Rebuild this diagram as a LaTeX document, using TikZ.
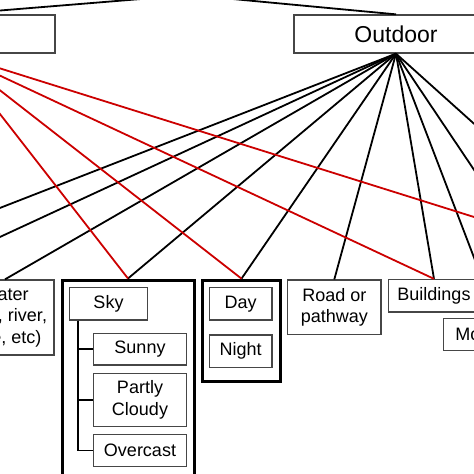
\documentclass[tikz,border=0pt]{standalone}
\usepackage{fontspec}
\setmainfont{Liberation Sans}
\usetikzlibrary{calc}
\definecolor{redline}{RGB}{204,0,0}
\definecolor{boxgray}{RGB}{70,70,70}
\begin{document}
\begin{tikzpicture}[x=1pt,y=-1pt,
  box/.style={draw=boxgray, line width=1.3pt, fill=white, inner sep=0pt, align=center, font=\fontsize{18}{21.5}\selectfont},
  bigbox/.style={box, minimum width=204pt, minimum height=38pt, font=\fontsize{23}{26}\selectfont},
  group/.style={draw=black, line width=3pt, inner sep=0pt},
  conn/.style={line width=1.8pt, black},
  rconn/.style={line width=1.8pt, redline},
  tree/.style={line width=1.8pt, black}]
\clip (0,0) rectangle (474,474);
\fill[white] (0,0) rectangle (474,474);
% top level boxes
\node[bigbox] (indoor) at (-47,34) {};
\node[bigbox] (outdoor) at (396,34) {Outdoor};
% off-canvas ends
\coordinate (top) at (190,-5);
\coordinate (farL1) at (-185,280);
\coordinate (farL2) at (-93,280);
\coordinate (farR1) at (548,280);
\coordinate (farR2) at (648,280);
\coordinate (farR3) at (675,280);
% bottom row
\node[box, minimum width=98pt, minimum height=75pt] (water) at (5,317.5) {Water\\(sea, river,\\lake, etc)};
\node[group, minimum width=132pt, minimum height=210pt] (skygroup) at (128,385) {};
\node[box, minimum width=78.4pt, minimum height=32.7pt] (sky) at (108.5,303.7) {Sky};
\node[box, minimum width=93.4pt, minimum height=31.7pt] (sunny) at (140,349.2) {Sunny};
\node[box, minimum width=93.4pt, minimum height=53.4pt] (partly) at (140,400) {Partly\\Cloudy};
\node[box, minimum width=93.4pt, minimum height=32.4pt] (overcast) at (140,450.5) {Overcast};
\node[group, minimum width=77.5pt, minimum height=101.7pt] (daygroup) at (241.5,331) {};
\node[box, minimum width=62.7pt, minimum height=32.3pt] (day) at (240.7,303.8) {Day};
\node[box, minimum width=62.7pt, minimum height=32.3pt] (night) at (240.7,351.2) {Night};
\node[box, minimum width=93.3pt, minimum height=54.3pt] (road) at (334.3,307.2) {Road or\\pathway};
\node[box, minimum width=91.4pt, minimum height=32.4pt] (buildings) at (434,295.7) {Buildings};
\node[box, minimum width=107.4pt, minimum height=32.4pt] (mountains) at (497,334.5) {Mountains};
% tree inside sky group
\draw[tree] ([xshift=9pt]sky.south west) |- (sunny.west);
\draw[tree] ([xshift=9pt]sky.south west) |- (partly.west);
\draw[tree] ([xshift=9pt]sky.south west) |- (overcast.west);
% top connectors
\draw[conn] (top) -- (indoor.north);
\draw[conn] (top) -- (outdoor.north);
% outdoor connectors
\foreach \t in {farL1,farL2,water.north,skygroup.north,daygroup.north,road.north,buildings.north,mountains.north,farR1,farR2}
  \draw[conn] (outdoor.south) -- (\t);
% indoor connectors
\foreach \t in {skygroup.north,daygroup.north,buildings.north,farR3}
  \draw[rconn] (indoor.south) -- (\t);
\end{tikzpicture}
\end{document}
